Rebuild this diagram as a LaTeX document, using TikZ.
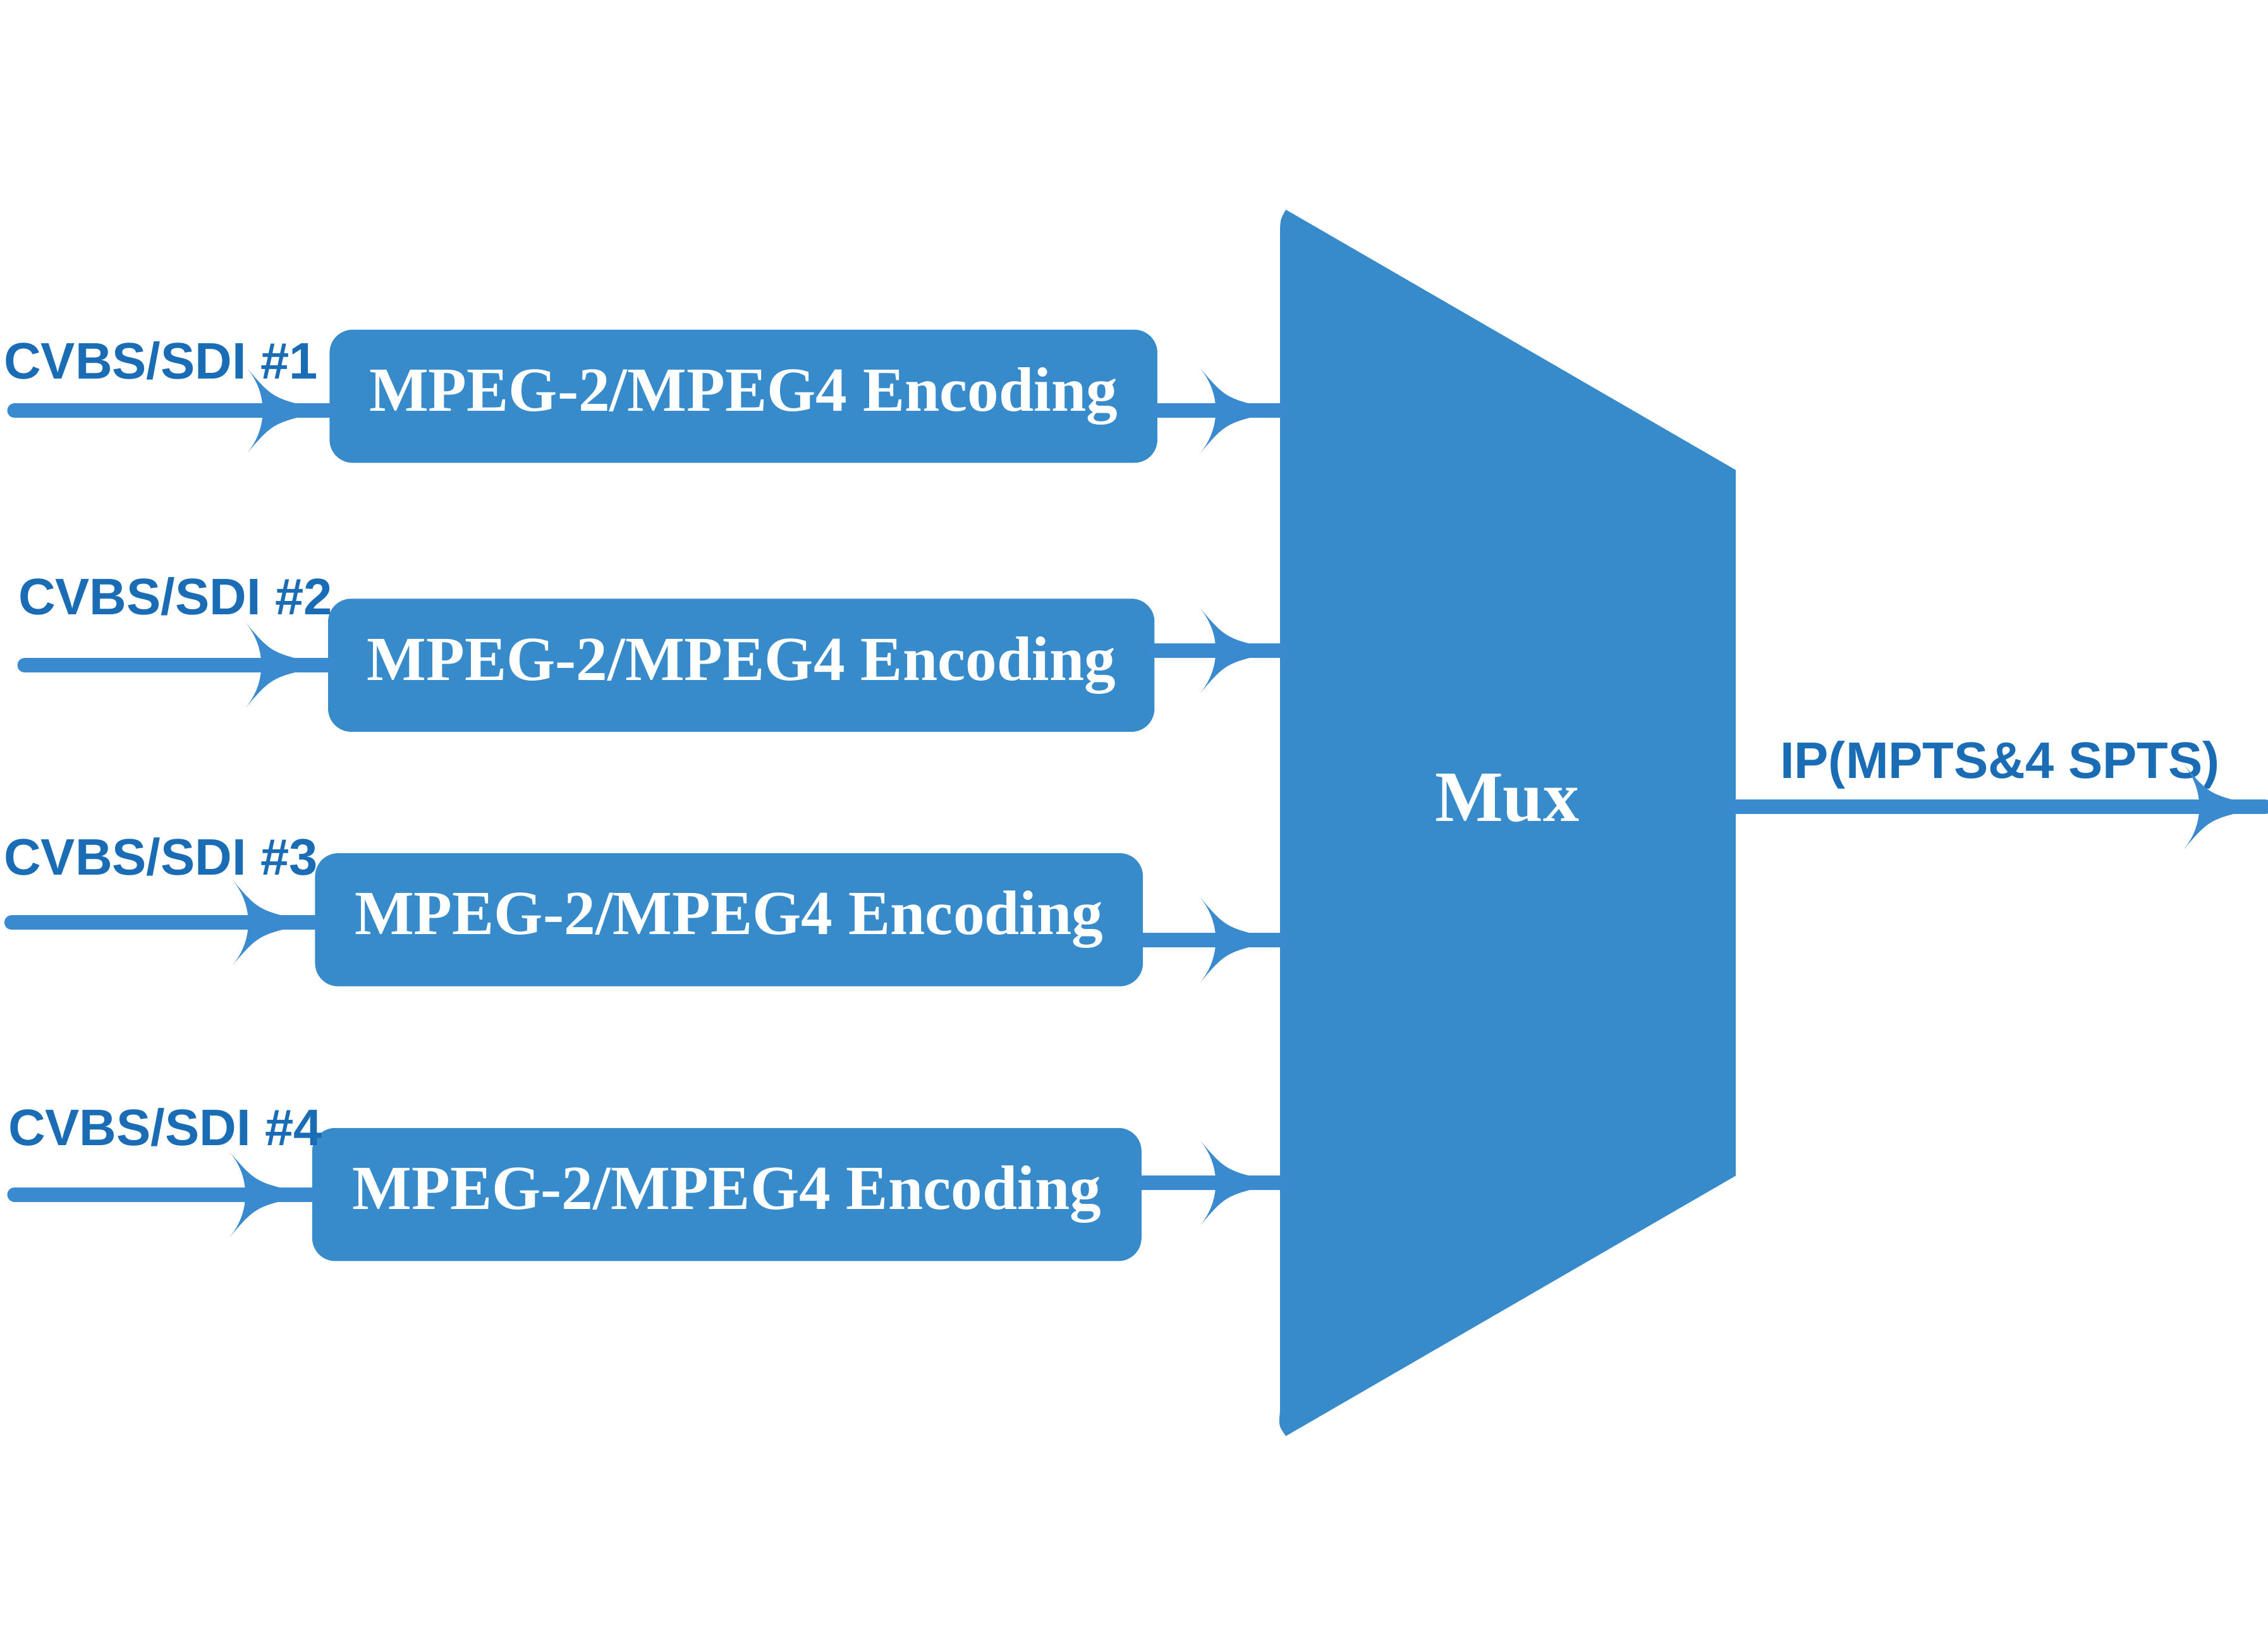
\documentclass[tikz,border=0pt]{standalone}
\usepackage{fontspec}
\setmainfont{Liberation Serif}
\newfontfamily\lsans{Liberation Sans}
\definecolor{boxblue}{HTML}{378BCB}
\definecolor{lblblue}{HTML}{1A6DB5}
\definecolor{arrblue}{HTML}{3A8AD0}
\begin{document}
\begin{tikzpicture}[x=0.01cm,y=-0.01cm,
  enc/.style={draw=none,fill=boxblue,rounded corners=0.16cm,text=white,font=\bfseries\fontsize{12.35pt}{14pt}\selectfont,inner sep=0pt},
  lbl/.style={text=lblblue,font=\lsans\bfseries\fontsize{10.1pt}{12pt}\selectfont,anchor=base west,inner sep=0pt},
  conn/.style={draw=arrblue,line width=0.1cm,line cap=round},
  head/.pic={\fill[arrblue] (-56,-29) .. controls (-38,-8) .. (0,0) .. controls (-38,8) .. (-56,29) .. controls (-42,12) and (-42,-12) .. cycle;}
]
\useasboundingbox (0,0) rectangle (1568,1142);
% mux
\fill[boxblue] (889,145) -- (1200,325) -- (1200,813) -- (889,993) .. controls (884,986) .. (885,975) -- (885,163) .. controls (885,152) .. (889,145) -- cycle;
\node[text=white,font=\bfseries\fontsize{14.2pt}{16pt}\selectfont] (mux) at (1042,552) {Mux};
\coordinate (m1) at (886,284);
\coordinate (m2) at (886,450);
\coordinate (m3) at (886,650);
\coordinate (m4) at (886,818);
\coordinate (mo) at (1198,558);
% boxes
\node[enc,minimum width=5.72cm,minimum height=0.92cm] (b1) at (514,274) {MPEG-2/MPEG4 Encoding};
\node[enc,minimum width=5.71cm,minimum height=0.92cm] (b2) at (512.5,460) {MPEG-2/MPEG4 Encoding};
\node[enc,minimum width=5.72cm,minimum height=0.92cm] (b3) at (504,636) {MPEG-2/MPEG4 Encoding};
\node[enc,minimum width=5.73cm,minimum height=0.92cm] (b4) at (502.5,826) {MPEG-2/MPEG4 Encoding};
% labels
\node[lbl] (l1) at (2,262) {CVBS/SDI \#1};
\node[lbl] (l2) at (12,425) {CVBS/SDI \#2};
\node[lbl] (l3) at (2,605) {CVBS/SDI \#3};
\node[lbl] (l4) at (5,792) {CVBS/SDI \#4};
\node[lbl] (lo) at (1230,538) {IP(MPTS\&4 SPTS)};
% inputs
\coordinate (i1) at (10,284); \coordinate (i2) at (17,460);
\coordinate (i3) at (8,638);  \coordinate (i4) at (10,826);
\draw[conn] (i1) -- (b1.west|-i1); \pic at (b1.west|-i1) {head};
\draw[conn] (i2) -- (b2.west|-i2); \pic at (b2.west|-i2) {head};
\draw[conn] (i3) -- (b3.west|-i3); \pic at (b3.west|-i3) {head};
\draw[conn] (i4) -- (b4.west|-i4); \pic at (b4.west|-i4) {head};
% outputs
\draw[conn] (b1.east|-m1) -- (m1); \pic at (m1) {head};
\draw[conn] (b2.east|-m2) -- (m2); \pic at (m2) {head};
\draw[conn] (b3.east|-m3) -- (m3); \pic at (m3) {head};
\draw[conn] (b4.east|-m4) -- (m4); \pic at (m4) {head};
\coordinate (out) at (1566,558);
\draw[conn] (mo) -- (out); \pic at (out) {head};
\end{tikzpicture}
\end{document}
